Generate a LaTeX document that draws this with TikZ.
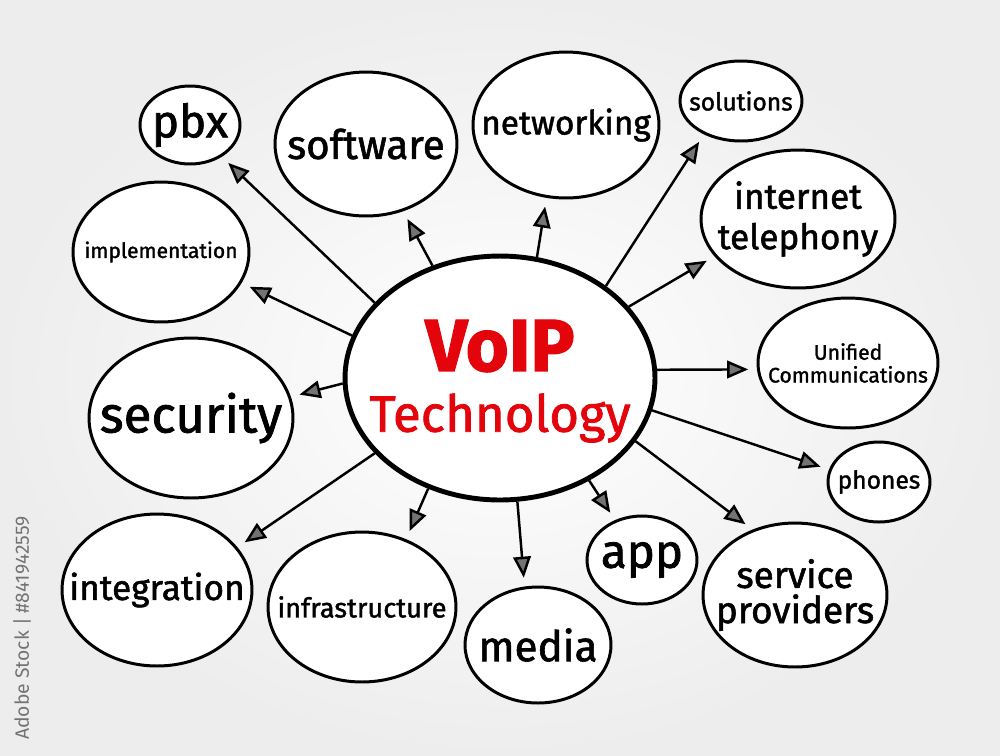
\documentclass[tikz,border=0pt]{standalone}
\usepackage{fontspec}
\setmainfont{Fira Sans}[FakeBold=1.5]
\newfontfamily\plainsans{Fira Sans}
\usetikzlibrary{shapes.geometric,arrows.meta}
\definecolor{voipred}{RGB}{228,4,12}
\newcommand\fsz[2]{\fontsize{#1}{#2}\selectfont}

\begin{document}
\begin{tikzpicture}[x=0.02cm,y=-0.02cm,
  bub/.style 2 args={ellipse,draw,fill=white,line width=1.7pt,minimum width=#1cm,minimum height=#2cm,inner sep=0pt},
  arr/.style={line width=1.4pt,-{Triangle[length=12pt,width=10pt,fill=black!55]},shorten >=5pt}]
\useasboundingbox (0,0) rectangle (1000,755);
\shade[inner color=white,outer color=black!7] (0,0) rectangle (1000,755);

% centre
\node[bub={6.2}{4.88},line width=2.8pt,
  label={[font=\fsz{42}{44}\bfseries,text=voipred,yshift=0.64cm]center:VoIP},
  label={[font=\fsz{29}{30},text=voipred,yshift=-0.8cm]center:Technology}] (voip) at (500,378) {};

% topics
\node[bub={2.0}{1.56},label={[font=\fsz{26}{28}]center:pbx}] (pbx) at (190,125) {};
\node[bub={3.64}{2.88},label={[font=\fsz{23}{26}]center:software}] (software) at (366,144) {};
\node[bub={3.72}{2.92},label={[font=\fsz{19}{22}]center:networking}] (networking) at (566,125) {};
\node[bub={2.44}{1.6},label={[font=\fsz{14}{16}]center:solutions}] (solutions) at (741,101) {};
\node[bub={3.88}{2.76},label={[font=\fsz{20}{23},align=center]center:internet\\telephony}] (telephony) at (798,219) {};
\node[bub={3.6}{2.6},label={[font=\fsz{12}{13},align=center]center:Unified\\Communications}] (unified) at (848,363) {};
\node[bub={2.04}{1.6},label={[font=\fsz{14}{16}]center:phones}] (phones) at (879,482) {};
\node[bub={3.68}{2.88},label={[font=\fsz{21}{20},align=center]center:service\\providers}] (service) at (795,595) {};
\node[bub={2.2}{1.76},label={[font=\fsz{27}{30}]center:app}] (app) at (642,560) {};
\node[bub={2.92}{2.32},label={[font=\fsz{24}{27}]center:media}] (media) at (538,645) {};
\node[bub={3.76}{3.0},label={[font=\fsz{15.5}{18}]center:infrastructure}] (infra) at (362,607) {};
\node[bub={3.8}{3.04},label={[font=\fsz{20}{23}]center:integration}] (integration) at (157,590) {};
\node[bub={4.08}{3.2},label={[font=\fsz{29}{32}]center:security}] (security) at (191,418) {};
\node[bub={3.52}{2.8},label={[font=\fsz{12}{14}]center:implementation}] (impl) at (161,252) {};

\foreach \a/\t/\b in {149/pbx/-45,164.5/impl/-21,121/software/-61.6,73/networking/-105.7,
  41.9/solutions/-138.4,29.7/telephony/-156.7,3.3/unified/-176.5,-12/phones/166.2,
  -25.4/service/123.5,-49.2/app/124.9,-82/media/103,-123/infra/57.2,
  211.4/integration/28.8,182.5/security/12.1}
  \draw[arr] (voip.\a) -- (\t.\b);

\node[rotate=90,text=black!55,font=\plainsans\fsz{11}{12}] (stock) at (22,628) {Adobe Stock | \#841942559};
\end{tikzpicture}
\end{document}
